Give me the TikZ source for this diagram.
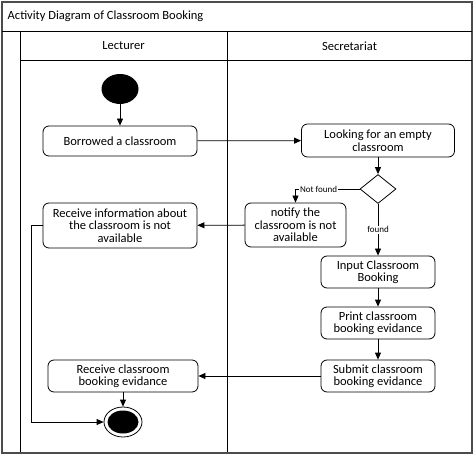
\documentclass[tikz,border=0pt]{standalone}
\usepackage{fontspec}
\setmainfont{Carlito}
\usetikzlibrary{arrows.meta}
\usetikzlibrary{shapes.geometric}

\tikzset{
	act/.style={draw,rounded corners=6pt,align=center,inner sep=1pt,font=\fontsize{12.5}{12.5}\selectfont},
	flow/.style={-{Triangle[length=7pt,width=6pt]}},
	lbl/.style={fill=white,inner sep=1pt,font=\fontsize{9}{10}\selectfont},
	startdot/.style={ellipse,fill=black,minimum width=37pt,minimum height=30pt,inner sep=0pt},
	stopring/.style={ellipse,draw,fill=white,minimum width=38pt,minimum height=30pt,inner sep=0pt},
	stopdot/.style={ellipse,fill=black,minimum width=31pt,minimum height=23pt,inner sep=0pt},
	decision/.style={diamond,draw,minimum width=36pt,minimum height=29pt,inner sep=0pt}
}

\begin{document}
\begin{tikzpicture}[x=1pt,y=-1pt,line width=0.8pt,font=\fontsize{12.5}{14}\selectfont]
	\useasboundingbox (0,0) rectangle (474,457);
	% frame and swimlanes
	\draw[line width=1.6pt,gray!60!black] (2,2) rectangle (472,453);
	\draw (2,31) -- (472,31);
	\draw (20,31) -- (20,452);
	\draw (227,31) -- (227,452);
	\draw (20,60) -- (472,60);
	\node[anchor=west] (title) at (4,16) {Activity Diagram of Classroom Booking};
	\node (lecturer) at (123.5,46) {Lecturer};
	\node (secretariat) at (349.5,46) {Secretariat};
	% activities
	\node[startdot] (start) at (120,89) {};
	\node[act,minimum width=154pt,minimum height=30pt] (borrow) at (120,141) {Borrowed a classroom};
	\node[act,minimum width=153pt,minimum height=33pt] (look) at (378,140.5) {Looking for an empty\\classroom};
	\node[decision] (check) at (378,189) {};
	\node[act,minimum width=101pt,minimum height=44pt] (notify) at (295.5,225) {notify the\\classroom is not\\available};
	\node[act,minimum width=154pt,minimum height=45pt] (info) at (120,225.5) {Receive information about\\the classroom is not\\available};
	\node[act,minimum width=114pt,minimum height=32pt] (input) at (378,272) {Input Classroom\\Booking};
	\node[act,minimum width=114pt,minimum height=32pt] (print) at (378,323) {Print classroom\\booking evidance};
	\node[act,minimum width=114pt,minimum height=32pt] (submit) at (378,376) {Submit classroom\\booking evidance};
	\node[act,minimum width=150pt,minimum height=32pt] (receive) at (123,376) {Receive classroom\\booking evidance};
	\node[stopring] (stop) at (123,422) {};
	\node[stopdot] (stopin) at (stop.center) {};
	% flows
	\draw[flow] (start) -- (borrow);
	\draw[flow] (borrow) -- (look);
	\draw[flow] (look) -- (check);
	\draw[flow] (check.west) -| node[lbl,pos=0.32] {Not found} (notify.north);
	\draw[flow] (check.south) -- node[lbl] {found} (input.north);
	\draw[flow] (notify) -- (info);
	\draw[flow] (input) -- (print);
	\draw[flow] (print) -- (submit);
	\draw[flow] (submit) -- (receive);
	\draw[flow] (receive) -- (stop);
	\draw[flow] (info.west) -- ++(-11,0) |- (stop.west);
\end{tikzpicture}
\end{document}
